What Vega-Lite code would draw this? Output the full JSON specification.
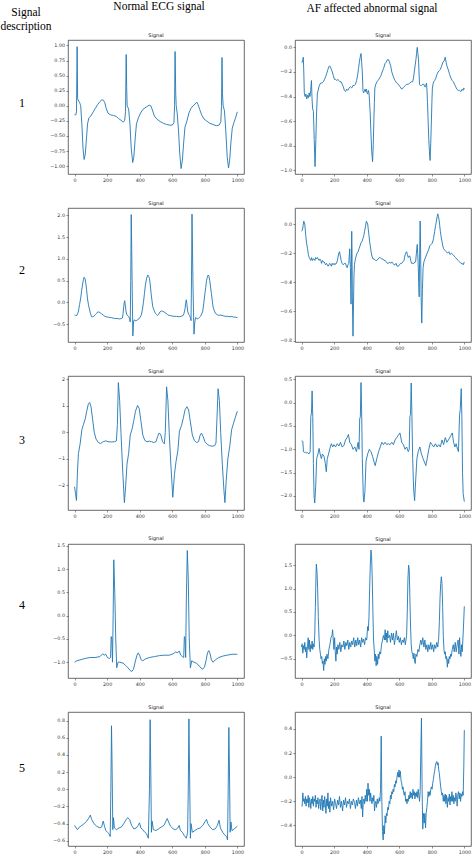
{
"$schema": "https://vega.github.io/schema/vega-lite/v6.json",
"padding": 0,
"background": "white",
"config": {
 "view": {"stroke": "#444", "strokeWidth": 0.8},
 "axis": {"domain": false, "grid": false, "tickSize": 2, "tickColor": "#444", "tickWidth": 0.6, "labelFont": "DejaVu Sans", "labelFontSize": 4.8, "labelColor": "#333", "labelPadding": 1.5, "labelFlush": false},
 "axisX": {"format": "d"},
 "title": {"font": "DejaVu Sans", "fontSize": 5, "fontWeight": "normal", "color": "#222", "offset": 2},
 "text": {"font": "Liberation Serif", "fontSize": 11.5, "color": "#000"},
 "line": {"color": "#1f77b4", "strokeWidth": 0.9}
},
"datasets": {
"p1L": [{"x":0,"y":-0.15},{"x":8,"y":-0.15},{"x":12,"y":-0.1},{"x":16,"y":0.98},{"x":19,"y":0.12},{"x":25,"y":0.08},{"x":32,"y":0.05},{"x":38,"y":0.0},{"x":45,"y":-0.3},{"x":52,"y":-0.7},{"x":59,"y":-0.89},{"x":66,"y":-0.8},{"x":73,"y":-0.55},{"x":80,"y":-0.3},{"x":88,"y":-0.2},{"x":100,"y":-0.17},{"x":115,"y":-0.1},{"x":128,"y":-0.04},{"x":142,"y":0.02},{"x":156,"y":0.07},{"x":168,"y":0.1},{"x":178,"y":0.09},{"x":186,"y":0.05},{"x":195,"y":-0.05},{"x":205,"y":-0.12},{"x":220,"y":-0.15},{"x":240,"y":-0.16},{"x":258,"y":-0.18},{"x":270,"y":-0.21},{"x":285,"y":-0.24},{"x":300,"y":-0.27},{"x":308,"y":-0.24},{"x":313,"y":-0.1},{"x":317,"y":0.85},{"x":320,"y":0.3},{"x":323,"y":0.0},{"x":332,"y":-0.05},{"x":340,"y":-0.3},{"x":348,"y":-0.7},{"x":357,"y":-0.94},{"x":364,"y":-0.85},{"x":372,"y":-0.55},{"x":380,"y":-0.3},{"x":392,"y":-0.2},{"x":405,"y":-0.12},{"x":420,"y":-0.06},{"x":440,"y":-0.02},{"x":458,"y":0.01},{"x":468,"y":0.0},{"x":478,"y":-0.07},{"x":490,"y":-0.17},{"x":505,"y":-0.22},{"x":525,"y":-0.26},{"x":545,"y":-0.29},{"x":565,"y":-0.31},{"x":585,"y":-0.32},{"x":600,"y":-0.32},{"x":610,"y":-0.28},{"x":614,"y":0.0},{"x":617,"y":0.9},{"x":621,"y":0.2},{"x":624,"y":0.0},{"x":630,"y":-0.12},{"x":638,"y":-0.4},{"x":646,"y":-0.8},{"x":654,"y":-1.04},{"x":662,"y":-0.9},{"x":670,"y":-0.6},{"x":678,"y":-0.35},{"x":690,"y":-0.25},{"x":702,"y":-0.12},{"x":715,"y":-0.04},{"x":728,"y":0.0},{"x":740,"y":0.03},{"x":750,"y":0.06},{"x":758,"y":0.02},{"x":768,"y":-0.06},{"x":780,"y":-0.15},{"x":795,"y":-0.22},{"x":810,"y":-0.25},{"x":830,"y":-0.29},{"x":850,"y":-0.31},{"x":870,"y":-0.33},{"x":888,"y":-0.32},{"x":898,"y":-0.26},{"x":902,"y":0.0},{"x":905,"y":0.8},{"x":908,"y":0.2},{"x":912,"y":0.0},{"x":920,"y":-0.08},{"x":928,"y":-0.4},{"x":937,"y":-0.85},{"x":945,"y":-1.03},{"x":952,"y":-0.9},{"x":960,"y":-0.6},{"x":968,"y":-0.37},{"x":978,"y":-0.28},{"x":988,"y":-0.2},{"x":999,"y":-0.1}],
"p1R": [{"x":0,"y":-0.12},{"x":5,"y":-0.12},{"x":8,"y":-0.1},{"x":11,"y":-0.08},{"x":14,"y":-0.2},{"x":17,"y":-0.37},{"x":22,"y":-0.4},{"x":27,"y":-0.38},{"x":32,"y":-0.42},{"x":37,"y":-0.39},{"x":42,"y":-0.41},{"x":47,"y":-0.37},{"x":52,"y":-0.4},{"x":56,"y":-0.35},{"x":61,"y":-0.27},{"x":64,"y":-0.4},{"x":68,"y":-0.5},{"x":73,"y":-0.52},{"x":78,"y":-0.75},{"x":83,"y":-0.97},{"x":88,"y":-0.75},{"x":92,"y":-0.55},{"x":97,"y":-0.38},{"x":102,"y":-0.35},{"x":107,"y":-0.32},{"x":113,"y":-0.3},{"x":118,"y":-0.29},{"x":126,"y":-0.29},{"x":134,"y":-0.28},{"x":141,"y":-0.26},{"x":148,"y":-0.24},{"x":155,"y":-0.21},{"x":162,"y":-0.18},{"x":167,"y":-0.16},{"x":172,"y":-0.15},{"x":178,"y":-0.16},{"x":183,"y":-0.18},{"x":189,"y":-0.2},{"x":195,"y":-0.23},{"x":202,"y":-0.26},{"x":209,"y":-0.26},{"x":216,"y":-0.27},{"x":223,"y":-0.26},{"x":229,"y":-0.27},{"x":236,"y":-0.28},{"x":243,"y":-0.28},{"x":250,"y":-0.3},{"x":256,"y":-0.32},{"x":263,"y":-0.35},{"x":270,"y":-0.36},{"x":277,"y":-0.34},{"x":284,"y":-0.35},{"x":292,"y":-0.33},{"x":300,"y":-0.32},{"x":308,"y":-0.33},{"x":316,"y":-0.31},{"x":324,"y":-0.31},{"x":331,"y":-0.3},{"x":338,"y":-0.27},{"x":345,"y":-0.22},{"x":350,"y":-0.17},{"x":355,"y":-0.12},{"x":360,"y":-0.08},{"x":365,"y":-0.05},{"x":369,"y":-0.12},{"x":373,"y":-0.2},{"x":377,"y":-0.35},{"x":381,"y":-0.37},{"x":385,"y":-0.36},{"x":390,"y":-0.34},{"x":394,"y":-0.36},{"x":398,"y":-0.34},{"x":402,"y":-0.37},{"x":406,"y":-0.38},{"x":410,"y":-0.35},{"x":414,"y":-0.37},{"x":418,"y":-0.45},{"x":422,"y":-0.55},{"x":426,"y":-0.7},{"x":431,"y":-0.85},{"x":436,"y":-0.93},{"x":440,"y":-0.8},{"x":444,"y":-0.6},{"x":447,"y":-0.45},{"x":450,"y":-0.33},{"x":456,"y":-0.3},{"x":462,"y":-0.28},{"x":470,"y":-0.27},{"x":479,"y":-0.25},{"x":487,"y":-0.23},{"x":495,"y":-0.2},{"x":504,"y":-0.17},{"x":513,"y":-0.13},{"x":520,"y":-0.12},{"x":527,"y":-0.1},{"x":534,"y":-0.1},{"x":540,"y":-0.12},{"x":547,"y":-0.15},{"x":554,"y":-0.2},{"x":564,"y":-0.24},{"x":574,"y":-0.27},{"x":584,"y":-0.29},{"x":594,"y":-0.3},{"x":604,"y":-0.32},{"x":615,"y":-0.34},{"x":622,"y":-0.33},{"x":629,"y":-0.32},{"x":637,"y":-0.31},{"x":645,"y":-0.3},{"x":655,"y":-0.3},{"x":665,"y":-0.29},{"x":674,"y":-0.28},{"x":682,"y":-0.28},{"x":687,"y":-0.25},{"x":692,"y":-0.2},{"x":697,"y":-0.15},{"x":702,"y":-0.1},{"x":706,"y":-0.05},{"x":710,"y":0.0},{"x":714,"y":-0.05},{"x":718,"y":-0.1},{"x":721,"y":-0.2},{"x":724,"y":-0.3},{"x":730,"y":-0.31},{"x":736,"y":-0.31},{"x":743,"y":-0.3},{"x":751,"y":-0.3},{"x":756,"y":-0.32},{"x":761,"y":-0.32},{"x":767,"y":-0.29},{"x":770,"y":-0.35},{"x":773,"y":-0.45},{"x":777,"y":-0.6},{"x":781,"y":-0.75},{"x":785,"y":-0.85},{"x":789,"y":-0.92},{"x":793,"y":-0.78},{"x":797,"y":-0.6},{"x":800,"y":-0.45},{"x":803,"y":-0.33},{"x":807,"y":-0.3},{"x":811,"y":-0.28},{"x":817,"y":-0.27},{"x":824,"y":-0.25},{"x":831,"y":-0.22},{"x":838,"y":-0.2},{"x":845,"y":-0.19},{"x":852,"y":-0.18},{"x":860,"y":-0.15},{"x":868,"y":-0.12},{"x":875,"y":-0.11},{"x":882,"y":-0.08},{"x":887,"y":-0.12},{"x":892,"y":-0.15},{"x":900,"y":-0.18},{"x":909,"y":-0.22},{"x":917,"y":-0.25},{"x":925,"y":-0.27},{"x":932,"y":-0.28},{"x":939,"y":-0.3},{"x":946,"y":-0.32},{"x":953,"y":-0.34},{"x":961,"y":-0.35},{"x":970,"y":-0.35},{"x":978,"y":-0.36},{"x":986,"y":-0.34},{"x":991,"y":-0.35},{"x":996,"y":-0.33},{"x":999,"y":-0.34}],
"p2L": [{"x":0,"y":-0.29},{"x":7,"y":-0.3},{"x":14,"y":-0.3},{"x":19,"y":-0.26},{"x":24,"y":-0.2},{"x":31,"y":-0.05},{"x":38,"y":0.1},{"x":44,"y":0.28},{"x":49,"y":0.4},{"x":54,"y":0.52},{"x":59,"y":0.58},{"x":64,"y":0.55},{"x":69,"y":0.45},{"x":74,"y":0.3},{"x":79,"y":0.1},{"x":85,"y":-0.04},{"x":91,"y":-0.15},{"x":98,"y":-0.26},{"x":105,"y":-0.33},{"x":112,"y":-0.33},{"x":119,"y":-0.32},{"x":128,"y":-0.28},{"x":136,"y":-0.25},{"x":143,"y":-0.22},{"x":150,"y":-0.22},{"x":158,"y":-0.24},{"x":166,"y":-0.26},{"x":176,"y":-0.29},{"x":186,"y":-0.32},{"x":196,"y":-0.33},{"x":207,"y":-0.34},{"x":217,"y":-0.35},{"x":227,"y":-0.35},{"x":237,"y":-0.36},{"x":247,"y":-0.37},{"x":262,"y":-0.37},{"x":277,"y":-0.38},{"x":286,"y":-0.37},{"x":294,"y":-0.36},{"x":298,"y":-0.25},{"x":302,"y":-0.1},{"x":305,"y":0.0},{"x":308,"y":0.04},{"x":312,"y":-0.08},{"x":316,"y":-0.2},{"x":320,"y":-0.27},{"x":324,"y":-0.3},{"x":330,"y":-0.32},{"x":334,"y":-0.33},{"x":338,"y":-0.38},{"x":342,"y":-0.45},{"x":345,"y":0.5},{"x":348,"y":2.02},{"x":351,"y":1.2},{"x":354,"y":0.3},{"x":358,"y":-0.77},{"x":362,"y":-0.45},{"x":366,"y":-0.4},{"x":372,"y":-0.42},{"x":378,"y":-0.42},{"x":386,"y":-0.4},{"x":395,"y":-0.38},{"x":402,"y":-0.34},{"x":409,"y":-0.3},{"x":416,"y":-0.18},{"x":423,"y":0.0},{"x":429,"y":0.2},{"x":435,"y":0.4},{"x":442,"y":0.55},{"x":449,"y":0.63},{"x":455,"y":0.6},{"x":460,"y":0.55},{"x":465,"y":0.4},{"x":470,"y":0.2},{"x":475,"y":0.05},{"x":480,"y":-0.1},{"x":488,"y":-0.18},{"x":496,"y":-0.25},{"x":503,"y":-0.28},{"x":510,"y":-0.3},{"x":517,"y":-0.27},{"x":524,"y":-0.22},{"x":532,"y":-0.2},{"x":540,"y":-0.2},{"x":550,"y":-0.22},{"x":561,"y":-0.25},{"x":571,"y":-0.28},{"x":581,"y":-0.3},{"x":596,"y":-0.31},{"x":611,"y":-0.32},{"x":626,"y":-0.32},{"x":642,"y":-0.33},{"x":654,"y":-0.32},{"x":666,"y":-0.3},{"x":672,"y":-0.25},{"x":678,"y":-0.15},{"x":682,"y":-0.02},{"x":686,"y":0.06},{"x":690,"y":-0.05},{"x":694,"y":-0.2},{"x":700,"y":-0.27},{"x":706,"y":-0.3},{"x":711,"y":-0.35},{"x":715,"y":-0.42},{"x":718,"y":0.6},{"x":721,"y":2.03},{"x":724,"y":1.2},{"x":727,"y":0.4},{"x":733,"y":-0.73},{"x":738,"y":-0.45},{"x":743,"y":-0.35},{"x":750,"y":-0.37},{"x":757,"y":-0.38},{"x":765,"y":-0.35},{"x":773,"y":-0.32},{"x":780,"y":-0.27},{"x":787,"y":-0.2},{"x":793,"y":-0.02},{"x":800,"y":0.2},{"x":805,"y":0.35},{"x":810,"y":0.5},{"x":815,"y":0.58},{"x":820,"y":0.63},{"x":825,"y":0.6},{"x":830,"y":0.5},{"x":835,"y":0.35},{"x":840,"y":0.2},{"x":845,"y":0.05},{"x":850,"y":-0.1},{"x":857,"y":-0.18},{"x":864,"y":-0.25},{"x":875,"y":-0.28},{"x":885,"y":-0.3},{"x":895,"y":-0.29},{"x":905,"y":-0.3},{"x":915,"y":-0.31},{"x":925,"y":-0.32},{"x":940,"y":-0.32},{"x":955,"y":-0.33},{"x":966,"y":-0.32},{"x":976,"y":-0.34},{"x":988,"y":-0.34},{"x":999,"y":-0.35}],
"p2R": [{"x":0,"y":-0.05},{"x":6,"y":-0.04},{"x":10,"y":-0.01},{"x":14,"y":0.02},{"x":17,"y":0.01},{"x":20,"y":0.0},{"x":23,"y":-0.04},{"x":26,"y":-0.08},{"x":31,"y":-0.13},{"x":37,"y":-0.17},{"x":42,"y":-0.21},{"x":47,"y":-0.23},{"x":52,"y":-0.24},{"x":57,"y":-0.25},{"x":62,"y":-0.23},{"x":67,"y":-0.25},{"x":72,"y":-0.24},{"x":77,"y":-0.24},{"x":82,"y":-0.25},{"x":87,"y":-0.23},{"x":92,"y":-0.24},{"x":97,"y":-0.23},{"x":102,"y":-0.24},{"x":108,"y":-0.25},{"x":113,"y":-0.24},{"x":118,"y":-0.25},{"x":123,"y":-0.27},{"x":128,"y":-0.25},{"x":133,"y":-0.26},{"x":138,"y":-0.26},{"x":143,"y":-0.27},{"x":148,"y":-0.28},{"x":153,"y":-0.27},{"x":158,"y":-0.28},{"x":163,"y":-0.29},{"x":168,"y":-0.28},{"x":173,"y":-0.27},{"x":178,"y":-0.28},{"x":183,"y":-0.29},{"x":188,"y":-0.27},{"x":193,"y":-0.28},{"x":199,"y":-0.27},{"x":205,"y":-0.28},{"x":210,"y":-0.27},{"x":215,"y":-0.27},{"x":220,"y":-0.25},{"x":225,"y":-0.22},{"x":229,"y":-0.2},{"x":233,"y":-0.19},{"x":238,"y":-0.22},{"x":243,"y":-0.25},{"x":249,"y":-0.27},{"x":256,"y":-0.28},{"x":263,"y":-0.27},{"x":270,"y":-0.27},{"x":275,"y":-0.29},{"x":280,"y":-0.3},{"x":285,"y":-0.28},{"x":290,"y":-0.27},{"x":294,"y":-0.2},{"x":296,"y":-0.17},{"x":298,"y":-0.25},{"x":300,"y":-0.3},{"x":302,"y":-0.45},{"x":304,"y":-0.55},{"x":306,"y":-0.3},{"x":308,"y":-0.05},{"x":310,"y":-0.2},{"x":312,"y":-0.5},{"x":314,"y":-0.65},{"x":316,"y":-0.77},{"x":319,"y":-0.55},{"x":322,"y":-0.35},{"x":325,"y":-0.28},{"x":329,"y":-0.25},{"x":335,"y":-0.22},{"x":341,"y":-0.2},{"x":347,"y":-0.19},{"x":353,"y":-0.17},{"x":359,"y":-0.15},{"x":365,"y":-0.13},{"x":371,"y":-0.12},{"x":377,"y":-0.1},{"x":382,"y":-0.08},{"x":387,"y":-0.05},{"x":392,"y":-0.02},{"x":398,"y":0.02},{"x":402,"y":0.01},{"x":406,"y":0.0},{"x":410,"y":-0.04},{"x":414,"y":-0.08},{"x":418,"y":-0.12},{"x":422,"y":-0.15},{"x":427,"y":-0.19},{"x":432,"y":-0.22},{"x":439,"y":-0.24},{"x":446,"y":-0.24},{"x":454,"y":-0.25},{"x":462,"y":-0.25},{"x":470,"y":-0.24},{"x":478,"y":-0.23},{"x":483,"y":-0.23},{"x":491,"y":-0.24},{"x":499,"y":-0.24},{"x":506,"y":-0.25},{"x":513,"y":-0.25},{"x":520,"y":-0.26},{"x":527,"y":-0.27},{"x":533,"y":-0.27},{"x":540,"y":-0.26},{"x":547,"y":-0.27},{"x":554,"y":-0.26},{"x":561,"y":-0.27},{"x":568,"y":-0.28},{"x":574,"y":-0.28},{"x":580,"y":-0.27},{"x":587,"y":-0.29},{"x":594,"y":-0.29},{"x":601,"y":-0.28},{"x":608,"y":-0.27},{"x":615,"y":-0.27},{"x":622,"y":-0.26},{"x":629,"y":-0.25},{"x":634,"y":-0.22},{"x":639,"y":-0.2},{"x":645,"y":-0.19},{"x":650,"y":-0.21},{"x":655,"y":-0.23},{"x":660,"y":-0.22},{"x":665,"y":-0.22},{"x":670,"y":-0.25},{"x":675,"y":-0.27},{"x":682,"y":-0.27},{"x":690,"y":-0.27},{"x":696,"y":-0.26},{"x":700,"y":-0.26},{"x":705,"y":-0.2},{"x":710,"y":-0.14},{"x":713,"y":-0.2},{"x":716,"y":-0.28},{"x":719,"y":-0.4},{"x":722,"y":-0.5},{"x":725,"y":-0.2},{"x":728,"y":0.02},{"x":731,"y":-0.2},{"x":734,"y":-0.5},{"x":736,"y":-0.6},{"x":738,"y":-0.68},{"x":742,"y":-0.45},{"x":746,"y":-0.3},{"x":751,"y":-0.26},{"x":757,"y":-0.24},{"x":764,"y":-0.22},{"x":771,"y":-0.2},{"x":779,"y":-0.18},{"x":787,"y":-0.15},{"x":795,"y":-0.14},{"x":803,"y":-0.13},{"x":810,"y":-0.1},{"x":817,"y":-0.05},{"x":823,"y":-0.01},{"x":828,"y":0.02},{"x":832,"y":0.05},{"x":836,"y":0.07},{"x":840,"y":0.05},{"x":844,"y":0.03},{"x":848,"y":-0.01},{"x":852,"y":-0.05},{"x":857,"y":-0.09},{"x":862,"y":-0.12},{"x":867,"y":-0.15},{"x":872,"y":-0.17},{"x":880,"y":-0.18},{"x":888,"y":-0.19},{"x":896,"y":-0.2},{"x":904,"y":-0.19},{"x":912,"y":-0.21},{"x":920,"y":-0.2},{"x":929,"y":-0.21},{"x":937,"y":-0.22},{"x":945,"y":-0.23},{"x":953,"y":-0.24},{"x":961,"y":-0.25},{"x":970,"y":-0.26},{"x":978,"y":-0.27},{"x":986,"y":-0.27},{"x":992,"y":-0.28},{"x":999,"y":-0.26}],
"p3L": [{"x":0,"y":-2.05},{"x":6,"y":-2.3},{"x":12,"y":-2.57},{"x":18,"y":-1.5},{"x":24,"y":-0.8},{"x":34,"y":-0.45},{"x":45,"y":0.1},{"x":55,"y":0.3},{"x":65,"y":0.5},{"x":75,"y":0.8},{"x":85,"y":1.08},{"x":93,"y":1.13},{"x":101,"y":0.98},{"x":111,"y":0.5},{"x":121,"y":0.0},{"x":132,"y":-0.25},{"x":146,"y":-0.38},{"x":160,"y":-0.42},{"x":176,"y":-0.35},{"x":192,"y":-0.32},{"x":206,"y":-0.35},{"x":227,"y":-0.36},{"x":247,"y":-0.35},{"x":257,"y":-0.32},{"x":263,"y":0.3},{"x":269,"y":1.88},{"x":277,"y":1.2},{"x":285,"y":0.0},{"x":296,"y":-1.5},{"x":306,"y":-2.65},{"x":314,"y":-2.0},{"x":322,"y":-1.2},{"x":332,"y":-0.8},{"x":342,"y":-0.1},{"x":354,"y":0.15},{"x":364,"y":0.45},{"x":374,"y":0.8},{"x":387,"y":1.02},{"x":397,"y":0.9},{"x":407,"y":0.45},{"x":419,"y":-0.1},{"x":431,"y":-0.3},{"x":445,"y":-0.35},{"x":460,"y":-0.33},{"x":472,"y":-0.35},{"x":486,"y":-0.38},{"x":500,"y":-0.35},{"x":510,"y":-0.15},{"x":520,"y":-0.02},{"x":530,"y":-0.1},{"x":540,"y":-0.35},{"x":551,"y":-0.43},{"x":557,"y":0.0},{"x":565,"y":1.72},{"x":573,"y":1.2},{"x":581,"y":0.0},{"x":591,"y":-1.2},{"x":603,"y":-2.45},{"x":613,"y":-1.6},{"x":623,"y":-1.1},{"x":634,"y":-0.7},{"x":644,"y":0.05},{"x":656,"y":0.25},{"x":668,"y":0.55},{"x":678,"y":0.85},{"x":690,"y":0.97},{"x":700,"y":0.85},{"x":711,"y":0.4},{"x":723,"y":-0.1},{"x":735,"y":-0.3},{"x":749,"y":-0.38},{"x":761,"y":-0.35},{"x":771,"y":-0.1},{"x":779,"y":-0.03},{"x":789,"y":-0.15},{"x":800,"y":-0.35},{"x":814,"y":-0.45},{"x":828,"y":-0.5},{"x":844,"y":-0.52},{"x":860,"y":-0.5},{"x":868,"y":-0.4},{"x":874,"y":0.5},{"x":881,"y":1.65},{"x":889,"y":1.2},{"x":897,"y":0.0},{"x":907,"y":-1.2},{"x":917,"y":-2.2},{"x":923,"y":-2.65},{"x":931,"y":-1.8},{"x":941,"y":-1.0},{"x":953,"y":-0.5},{"x":964,"y":0.1},{"x":976,"y":0.35},{"x":986,"y":0.55},{"x":999,"y":0.8}],
"p3R": [{"x":0,"y":-0.82},{"x":8,"y":-0.83},{"x":12,"y":-1.05},{"x":20,"y":-1.07},{"x":26,"y":-1.06},{"x":32,"y":-1.08},{"x":38,"y":-1.07},{"x":45,"y":-1.1},{"x":53,"y":-1.05},{"x":57,"y":-0.3},{"x":61,"y":-0.22},{"x":65,"y":0.25},{"x":69,"y":-0.3},{"x":73,"y":-1.3},{"x":77,"y":-2.0},{"x":81,"y":-2.15},{"x":87,"y":-1.8},{"x":93,"y":-1.2},{"x":101,"y":-1.1},{"x":108,"y":-0.98},{"x":114,"y":-1.1},{"x":122,"y":-1.2},{"x":128,"y":-1.1},{"x":138,"y":-1.15},{"x":146,"y":-1.3},{"x":152,"y":-1.48},{"x":158,"y":-1.2},{"x":166,"y":-1.1},{"x":174,"y":-0.98},{"x":183,"y":-0.88},{"x":191,"y":-0.95},{"x":199,"y":-0.9},{"x":209,"y":-0.95},{"x":219,"y":-0.88},{"x":229,"y":-0.93},{"x":239,"y":-0.85},{"x":249,"y":-0.95},{"x":260,"y":-0.92},{"x":270,"y":-0.8},{"x":280,"y":-0.75},{"x":288,"y":-0.68},{"x":296,"y":-0.85},{"x":306,"y":-0.9},{"x":316,"y":-1.0},{"x":327,"y":-0.95},{"x":337,"y":-1.05},{"x":347,"y":-0.85},{"x":353,"y":-1.0},{"x":357,"y":-0.35},{"x":361,"y":-0.3},{"x":365,"y":0.43},{"x":369,"y":-0.2},{"x":373,"y":-1.2},{"x":379,"y":-2.0},{"x":383,"y":-2.13},{"x":389,"y":-1.9},{"x":396,"y":-1.25},{"x":406,"y":-1.1},{"x":416,"y":-1.0},{"x":426,"y":-1.05},{"x":436,"y":-1.15},{"x":446,"y":-1.28},{"x":452,"y":-1.35},{"x":462,"y":-1.2},{"x":473,"y":-1.05},{"x":483,"y":-0.95},{"x":493,"y":-0.85},{"x":503,"y":-0.9},{"x":513,"y":-0.85},{"x":523,"y":-0.9},{"x":533,"y":-0.88},{"x":544,"y":-0.9},{"x":554,"y":-0.85},{"x":564,"y":-0.9},{"x":574,"y":-0.8},{"x":584,"y":-0.75},{"x":594,"y":-0.7},{"x":604,"y":-0.65},{"x":615,"y":-0.85},{"x":625,"y":-0.9},{"x":635,"y":-1.0},{"x":645,"y":-0.95},{"x":655,"y":-1.05},{"x":661,"y":-1.0},{"x":665,"y":-0.3},{"x":669,"y":-0.25},{"x":673,"y":0.42},{"x":677,"y":-0.2},{"x":682,"y":-1.2},{"x":688,"y":-1.85},{"x":694,"y":-2.1},{"x":700,"y":-1.7},{"x":708,"y":-1.2},{"x":716,"y":-1.05},{"x":726,"y":-0.95},{"x":736,"y":-1.1},{"x":746,"y":-1.2},{"x":757,"y":-1.3},{"x":763,"y":-1.35},{"x":771,"y":-1.2},{"x":781,"y":-1.0},{"x":791,"y":-0.85},{"x":801,"y":-0.9},{"x":811,"y":-0.95},{"x":822,"y":-0.88},{"x":832,"y":-0.95},{"x":842,"y":-0.9},{"x":852,"y":-0.95},{"x":862,"y":-0.8},{"x":872,"y":-0.9},{"x":882,"y":-0.75},{"x":892,"y":-0.85},{"x":905,"y":-0.78},{"x":917,"y":-0.7},{"x":925,"y":-0.65},{"x":933,"y":-0.85},{"x":941,"y":-0.95},{"x":949,"y":-0.88},{"x":957,"y":-1.0},{"x":963,"y":-1.05},{"x":970,"y":-0.25},{"x":974,"y":-0.15},{"x":980,"y":0.3},{"x":984,"y":-0.3},{"x":988,"y":-1.5},{"x":992,"y":-1.95},{"x":999,"y":-2.12}],
"p4L": [{"x":0,"y":-1.0},{"x":14,"y":-0.97},{"x":34,"y":-0.95},{"x":65,"y":-0.92},{"x":95,"y":-0.9},{"x":126,"y":-0.9},{"x":156,"y":-0.88},{"x":172,"y":-0.82},{"x":182,"y":-0.85},{"x":192,"y":-0.83},{"x":202,"y":-0.9},{"x":213,"y":-0.92},{"x":221,"y":-0.9},{"x":225,"y":-0.45},{"x":229,"y":-0.5},{"x":233,"y":-1.0},{"x":237,"y":0.0},{"x":241,"y":1.2},{"x":247,"y":0.5},{"x":253,"y":-0.5},{"x":259,"y":-1.12},{"x":267,"y":-1.0},{"x":277,"y":-1.0},{"x":298,"y":-1.02},{"x":314,"y":-1.07},{"x":328,"y":-1.12},{"x":342,"y":-1.18},{"x":352,"y":-1.2},{"x":362,"y":-1.15},{"x":372,"y":-1.0},{"x":383,"y":-0.85},{"x":391,"y":-0.8},{"x":399,"y":-0.85},{"x":409,"y":-0.95},{"x":419,"y":-0.97},{"x":435,"y":-0.93},{"x":460,"y":-0.9},{"x":490,"y":-0.88},{"x":520,"y":-0.86},{"x":550,"y":-0.85},{"x":581,"y":-0.85},{"x":605,"y":-0.82},{"x":621,"y":-0.78},{"x":632,"y":-0.8},{"x":642,"y":-0.76},{"x":652,"y":-0.85},{"x":662,"y":-0.88},{"x":670,"y":-0.9},{"x":674,"y":-0.45},{"x":678,"y":-0.5},{"x":682,"y":-0.9},{"x":686,"y":0.3},{"x":692,"y":1.4},{"x":698,"y":0.8},{"x":704,"y":-0.5},{"x":711,"y":-1.12},{"x":719,"y":-0.97},{"x":733,"y":-1.0},{"x":747,"y":-1.02},{"x":763,"y":-1.07},{"x":777,"y":-1.13},{"x":787,"y":-1.15},{"x":798,"y":-1.1},{"x":808,"y":-0.95},{"x":816,"y":-0.8},{"x":824,"y":-0.75},{"x":832,"y":-0.82},{"x":840,"y":-0.95},{"x":850,"y":-1.0},{"x":864,"y":-0.95},{"x":885,"y":-0.9},{"x":909,"y":-0.87},{"x":935,"y":-0.85},{"x":966,"y":-0.83},{"x":999,"y":-0.83}],
"p4R": [{"x":0,"y":-0.25},{"x":4,"y":-0.18},{"x":8,"y":-0.38},{"x":12,"y":-0.22},{"x":16,"y":-0.3},{"x":20,"y":-0.15},{"x":24,"y":-0.35},{"x":28,"y":-0.25},{"x":32,"y":-0.48},{"x":37,"y":-0.2},{"x":41,"y":-0.05},{"x":45,"y":-0.3},{"x":49,"y":-0.1},{"x":53,"y":-0.35},{"x":57,"y":-0.2},{"x":61,"y":-0.28},{"x":65,"y":-0.12},{"x":69,"y":-0.3},{"x":73,"y":-0.18},{"x":77,"y":-0.25},{"x":81,"y":0.0},{"x":85,"y":0.6},{"x":89,"y":1.3},{"x":91,"y":1.52},{"x":95,"y":1.35},{"x":99,"y":1.0},{"x":103,"y":0.4},{"x":108,"y":-0.1},{"x":112,"y":-0.3},{"x":116,"y":-0.4},{"x":120,"y":-0.5},{"x":124,"y":-0.45},{"x":128,"y":-0.6},{"x":132,"y":-0.55},{"x":136,"y":-0.75},{"x":140,"y":-0.5},{"x":144,"y":-0.62},{"x":148,"y":-0.45},{"x":152,"y":-0.55},{"x":156,"y":-0.4},{"x":162,"y":-0.5},{"x":168,"y":-0.3},{"x":174,"y":-0.2},{"x":181,"y":-0.05},{"x":187,"y":0.0},{"x":191,"y":0.12},{"x":195,"y":-0.1},{"x":199,"y":-0.3},{"x":203,"y":-0.05},{"x":207,"y":-0.35},{"x":211,"y":-0.55},{"x":215,"y":-0.25},{"x":219,"y":-0.4},{"x":223,"y":-0.2},{"x":229,"y":-0.3},{"x":235,"y":-0.15},{"x":241,"y":-0.35},{"x":247,"y":-0.2},{"x":254,"y":-0.25},{"x":260,"y":-0.12},{"x":266,"y":-0.3},{"x":272,"y":-0.15},{"x":278,"y":-0.22},{"x":284,"y":-0.1},{"x":290,"y":-0.3},{"x":296,"y":-0.15},{"x":302,"y":-0.25},{"x":308,"y":-0.12},{"x":314,"y":-0.2},{"x":320,"y":-0.05},{"x":327,"y":-0.25},{"x":333,"y":-0.1},{"x":339,"y":-0.22},{"x":345,"y":-0.05},{"x":351,"y":-0.2},{"x":357,"y":-0.1},{"x":363,"y":-0.25},{"x":369,"y":-0.05},{"x":375,"y":-0.15},{"x":381,"y":-0.08},{"x":387,"y":-0.2},{"x":393,"y":-0.05},{"x":400,"y":-0.1},{"x":406,"y":0.19},{"x":410,"y":0.1},{"x":414,"y":0.4},{"x":418,"y":1.0},{"x":422,"y":1.5},{"x":426,"y":1.82},{"x":430,"y":1.7},{"x":434,"y":1.2},{"x":438,"y":0.5},{"x":442,"y":-0.1},{"x":446,"y":-0.3},{"x":450,"y":-0.55},{"x":454,"y":-0.4},{"x":458,"y":-0.65},{"x":462,"y":-0.45},{"x":467,"y":-0.62},{"x":471,"y":-0.4},{"x":475,"y":-0.5},{"x":479,"y":-0.35},{"x":485,"y":-0.4},{"x":491,"y":-0.2},{"x":497,"y":-0.1},{"x":503,"y":0.0},{"x":509,"y":-0.1},{"x":513,"y":0.12},{"x":517,"y":-0.1},{"x":521,"y":0.05},{"x":525,"y":-0.15},{"x":529,"y":0.1},{"x":533,"y":-0.05},{"x":540,"y":0.0},{"x":546,"y":-0.15},{"x":552,"y":0.05},{"x":558,"y":-0.1},{"x":564,"y":0.05},{"x":570,"y":-0.2},{"x":576,"y":-0.05},{"x":582,"y":0.1},{"x":588,"y":-0.1},{"x":594,"y":-0.02},{"x":600,"y":-0.15},{"x":606,"y":-0.05},{"x":613,"y":-0.2},{"x":619,"y":-0.1},{"x":625,"y":-0.15},{"x":631,"y":-0.05},{"x":637,"y":-0.2},{"x":641,"y":-0.1},{"x":645,"y":0.0},{"x":649,"y":0.5},{"x":653,"y":1.2},{"x":657,"y":1.5},{"x":661,"y":1.4},{"x":665,"y":0.8},{"x":669,"y":0.2},{"x":673,"y":-0.2},{"x":677,"y":-0.35},{"x":682,"y":-0.4},{"x":686,"y":-0.5},{"x":690,"y":-0.38},{"x":694,"y":-0.55},{"x":698,"y":-0.6},{"x":702,"y":-0.4},{"x":708,"y":-0.45},{"x":714,"y":-0.3},{"x":720,"y":-0.35},{"x":726,"y":-0.2},{"x":732,"y":-0.1},{"x":738,"y":-0.2},{"x":744,"y":-0.05},{"x":751,"y":-0.25},{"x":757,"y":-0.1},{"x":763,"y":-0.3},{"x":769,"y":-0.2},{"x":775,"y":-0.35},{"x":781,"y":-0.2},{"x":787,"y":-0.3},{"x":793,"y":-0.15},{"x":799,"y":-0.3},{"x":805,"y":-0.2},{"x":811,"y":-0.35},{"x":817,"y":-0.2},{"x":824,"y":-0.28},{"x":830,"y":-0.15},{"x":836,"y":-0.25},{"x":842,"y":-0.05},{"x":846,"y":0.3},{"x":850,"y":0.8},{"x":854,"y":1.1},{"x":858,"y":1.25},{"x":862,"y":1.1},{"x":866,"y":0.6},{"x":870,"y":0.0},{"x":874,"y":-0.3},{"x":878,"y":-0.4},{"x":882,"y":-0.35},{"x":886,"y":-0.5},{"x":890,"y":-0.45},{"x":895,"y":-0.68},{"x":899,"y":-0.5},{"x":903,"y":-0.6},{"x":907,"y":-0.45},{"x":911,"y":-0.5},{"x":915,"y":-0.4},{"x":919,"y":-0.45},{"x":925,"y":-0.3},{"x":931,"y":-0.2},{"x":937,"y":-0.35},{"x":943,"y":-0.15},{"x":949,"y":-0.35},{"x":955,"y":-0.2},{"x":961,"y":-0.1},{"x":966,"y":-0.4},{"x":970,"y":-0.05},{"x":974,"y":-0.3},{"x":978,"y":-0.45},{"x":982,"y":-0.2},{"x":986,"y":-0.35},{"x":990,"y":-0.1},{"x":994,"y":0.2},{"x":999,"y":0.62}],
"p5L": [{"x":0,"y":-0.42},{"x":10,"y":-0.45},{"x":18,"y":-0.47},{"x":30,"y":-0.44},{"x":45,"y":-0.42},{"x":59,"y":-0.4},{"x":75,"y":-0.37},{"x":89,"y":-0.33},{"x":97,"y":-0.3},{"x":105,"y":-0.35},{"x":119,"y":-0.4},{"x":136,"y":-0.43},{"x":156,"y":-0.45},{"x":166,"y":-0.44},{"x":176,"y":-0.37},{"x":184,"y":-0.43},{"x":192,"y":-0.48},{"x":202,"y":-0.5},{"x":213,"y":-0.52},{"x":219,"y":-0.55},{"x":223,"y":0.0},{"x":227,"y":0.74},{"x":231,"y":0.2},{"x":235,"y":-0.47},{"x":239,"y":-0.33},{"x":245,"y":-0.45},{"x":257,"y":-0.47},{"x":273,"y":-0.45},{"x":287,"y":-0.44},{"x":302,"y":-0.4},{"x":314,"y":-0.36},{"x":326,"y":-0.33},{"x":338,"y":-0.35},{"x":350,"y":-0.42},{"x":364,"y":-0.46},{"x":379,"y":-0.45},{"x":391,"y":-0.42},{"x":399,"y":-0.39},{"x":407,"y":-0.45},{"x":419,"y":-0.47},{"x":431,"y":-0.5},{"x":443,"y":-0.52},{"x":453,"y":-0.57},{"x":460,"y":0.0},{"x":464,"y":0.81},{"x":468,"y":0.2},{"x":472,"y":-0.5},{"x":476,"y":-0.37},{"x":484,"y":-0.47},{"x":500,"y":-0.48},{"x":516,"y":-0.46},{"x":532,"y":-0.44},{"x":549,"y":-0.42},{"x":561,"y":-0.37},{"x":569,"y":-0.34},{"x":577,"y":-0.38},{"x":589,"y":-0.43},{"x":605,"y":-0.46},{"x":621,"y":-0.47},{"x":634,"y":-0.45},{"x":642,"y":-0.42},{"x":650,"y":-0.48},{"x":662,"y":-0.5},{"x":674,"y":-0.54},{"x":686,"y":-0.57},{"x":694,"y":-0.5},{"x":698,"y":0.0},{"x":702,"y":0.82},{"x":706,"y":0.2},{"x":711,"y":-0.57},{"x":715,"y":-0.4},{"x":723,"y":-0.5},{"x":739,"y":-0.48},{"x":755,"y":-0.46},{"x":771,"y":-0.45},{"x":787,"y":-0.42},{"x":800,"y":-0.38},{"x":810,"y":-0.35},{"x":818,"y":-0.4},{"x":832,"y":-0.44},{"x":848,"y":-0.47},{"x":864,"y":-0.46},{"x":877,"y":-0.42},{"x":887,"y":-0.36},{"x":895,"y":-0.45},{"x":909,"y":-0.5},{"x":921,"y":-0.53},{"x":933,"y":-0.55},{"x":939,"y":-0.59},{"x":943,"y":0.0},{"x":947,"y":0.72},{"x":951,"y":0.2},{"x":955,"y":-0.5},{"x":960,"y":-0.38},{"x":966,"y":-0.48},{"x":976,"y":-0.47},{"x":986,"y":-0.45},{"x":999,"y":-0.43}],
"p5R": [{"x":0,"y":-0.24},{"x":4,"y":-0.24},{"x":8,"y":-0.13},{"x":12,"y":-0.2},{"x":16,"y":-0.18},{"x":20,"y":-0.22},{"x":24,"y":-0.16},{"x":28,"y":-0.24},{"x":32,"y":-0.18},{"x":37,"y":-0.21},{"x":41,"y":-0.15},{"x":45,"y":-0.25},{"x":49,"y":-0.17},{"x":53,"y":-0.2},{"x":57,"y":-0.26},{"x":61,"y":-0.18},{"x":65,"y":-0.22},{"x":69,"y":-0.16},{"x":73,"y":-0.24},{"x":77,"y":-0.18},{"x":81,"y":-0.2},{"x":85,"y":-0.15},{"x":89,"y":-0.25},{"x":93,"y":-0.19},{"x":97,"y":-0.22},{"x":101,"y":-0.17},{"x":105,"y":-0.26},{"x":110,"y":-0.2},{"x":114,"y":-0.18},{"x":118,"y":-0.27},{"x":122,"y":-0.2},{"x":126,"y":-0.15},{"x":130,"y":-0.28},{"x":134,"y":-0.19},{"x":138,"y":-0.25},{"x":142,"y":-0.16},{"x":146,"y":-0.22},{"x":150,"y":-0.3},{"x":154,"y":-0.18},{"x":158,"y":-0.24},{"x":162,"y":-0.13},{"x":166,"y":-0.26},{"x":170,"y":-0.2},{"x":174,"y":-0.29},{"x":178,"y":-0.17},{"x":185,"y":-0.24},{"x":191,"y":-0.2},{"x":197,"y":-0.27},{"x":203,"y":-0.18},{"x":209,"y":-0.22},{"x":215,"y":-0.26},{"x":221,"y":-0.19},{"x":227,"y":-0.23},{"x":233,"y":-0.16},{"x":239,"y":-0.25},{"x":245,"y":-0.2},{"x":252,"y":-0.28},{"x":258,"y":-0.19},{"x":264,"y":-0.23},{"x":270,"y":-0.17},{"x":276,"y":-0.25},{"x":282,"y":-0.2},{"x":288,"y":-0.22},{"x":294,"y":-0.18},{"x":300,"y":-0.26},{"x":306,"y":-0.2},{"x":312,"y":-0.23},{"x":318,"y":-0.18},{"x":325,"y":-0.21},{"x":331,"y":-0.26},{"x":337,"y":-0.19},{"x":343,"y":-0.24},{"x":349,"y":-0.17},{"x":355,"y":-0.22},{"x":361,"y":-0.19},{"x":367,"y":-0.26},{"x":371,"y":-0.16},{"x":375,"y":-0.33},{"x":379,"y":-0.2},{"x":383,"y":-0.18},{"x":387,"y":-0.22},{"x":391,"y":-0.15},{"x":396,"y":-0.2},{"x":400,"y":-0.1},{"x":404,"y":-0.2},{"x":408,"y":-0.05},{"x":412,"y":-0.15},{"x":416,"y":-0.1},{"x":420,"y":-0.2},{"x":424,"y":-0.13},{"x":428,"y":-0.18},{"x":432,"y":-0.22},{"x":436,"y":-0.17},{"x":440,"y":-0.2},{"x":444,"y":-0.15},{"x":448,"y":-0.28},{"x":452,"y":-0.22},{"x":456,"y":-0.2},{"x":460,"y":-0.25},{"x":465,"y":-0.18},{"x":469,"y":-0.22},{"x":473,"y":-0.2},{"x":477,"y":-0.17},{"x":481,"y":-0.2},{"x":485,"y":-0.1},{"x":489,"y":0.34},{"x":493,"y":-0.2},{"x":497,"y":-0.45},{"x":501,"y":-0.52},{"x":505,"y":-0.4},{"x":509,"y":-0.47},{"x":513,"y":-0.32},{"x":517,"y":-0.38},{"x":521,"y":-0.3},{"x":525,"y":-0.32},{"x":529,"y":-0.25},{"x":533,"y":-0.27},{"x":538,"y":-0.2},{"x":542,"y":-0.22},{"x":546,"y":-0.15},{"x":550,"y":-0.18},{"x":554,"y":-0.12},{"x":558,"y":-0.14},{"x":562,"y":-0.1},{"x":566,"y":-0.12},{"x":570,"y":-0.06},{"x":574,"y":-0.08},{"x":578,"y":-0.03},{"x":582,"y":-0.05},{"x":586,"y":0.0},{"x":590,"y":0.04},{"x":594,"y":0.0},{"x":598,"y":0.06},{"x":602,"y":0.0},{"x":606,"y":0.05},{"x":611,"y":-0.03},{"x":615,"y":-0.05},{"x":619,"y":-0.1},{"x":623,"y":-0.08},{"x":627,"y":-0.13},{"x":631,"y":-0.15},{"x":635,"y":-0.12},{"x":639,"y":-0.2},{"x":643,"y":-0.18},{"x":647,"y":-0.22},{"x":651,"y":-0.18},{"x":655,"y":-0.2},{"x":659,"y":-0.15},{"x":663,"y":-0.18},{"x":667,"y":-0.12},{"x":671,"y":-0.17},{"x":675,"y":-0.13},{"x":680,"y":-0.18},{"x":684,"y":-0.1},{"x":688,"y":-0.15},{"x":692,"y":-0.12},{"x":696,"y":-0.18},{"x":700,"y":-0.13},{"x":704,"y":-0.16},{"x":708,"y":-0.12},{"x":712,"y":-0.17},{"x":716,"y":-0.1},{"x":720,"y":-0.15},{"x":724,"y":-0.2},{"x":728,"y":-0.12},{"x":732,"y":0.2},{"x":736,"y":0.49},{"x":740,"y":-0.1},{"x":744,"y":-0.43},{"x":748,"y":-0.3},{"x":753,"y":-0.38},{"x":757,"y":-0.3},{"x":761,"y":-0.42},{"x":765,"y":-0.3},{"x":769,"y":-0.25},{"x":773,"y":-0.2},{"x":777,"y":-0.12},{"x":781,"y":-0.16},{"x":785,"y":-0.12},{"x":789,"y":-0.15},{"x":793,"y":-0.1},{"x":797,"y":-0.08},{"x":801,"y":-0.1},{"x":805,"y":-0.05},{"x":809,"y":-0.02},{"x":813,"y":0.02},{"x":817,"y":0.05},{"x":822,"y":0.1},{"x":826,"y":0.12},{"x":830,"y":0.13},{"x":834,"y":0.1},{"x":838,"y":0.12},{"x":842,"y":0.06},{"x":846,"y":0.03},{"x":850,"y":-0.03},{"x":854,"y":-0.08},{"x":858,"y":-0.12},{"x":862,"y":-0.15},{"x":866,"y":-0.13},{"x":870,"y":-0.2},{"x":874,"y":-0.15},{"x":878,"y":-0.2},{"x":882,"y":-0.14},{"x":886,"y":-0.22},{"x":890,"y":-0.15},{"x":895,"y":-0.25},{"x":899,"y":-0.17},{"x":903,"y":-0.2},{"x":907,"y":-0.14},{"x":911,"y":-0.23},{"x":915,"y":-0.16},{"x":919,"y":-0.2},{"x":923,"y":-0.12},{"x":927,"y":-0.2},{"x":931,"y":-0.15},{"x":935,"y":-0.22},{"x":939,"y":-0.17},{"x":943,"y":-0.2},{"x":947,"y":-0.13},{"x":951,"y":-0.16},{"x":955,"y":-0.24},{"x":959,"y":-0.15},{"x":963,"y":-0.12},{"x":968,"y":-0.18},{"x":972,"y":-0.13},{"x":976,"y":-0.2},{"x":980,"y":-0.14},{"x":984,"y":-0.16},{"x":988,"y":-0.12},{"x":992,"y":-0.15},{"x":996,"y":0.1},{"x":999,"y":0.39}]
},
"columns": 3,
"bounds": "flush",
"align": "each",
"spacing": {"column": 51, "row": 34},
"concat": [
 {"width": 17, "height": 6, "view": {"stroke": null}, "data": {"values": [{"t": "Signal\ndescription"}]}, "mark": {"type": "text", "lineBreak": "\n", "lineHeight": 13.5, "baseline": "middle", "dx": 17.5, "dy": 10}, "encoding": {"text": {"field": "t"}}},
 {"width": 176, "height": 6, "view": {"stroke": null}, "data": {"values": [{"t": "Normal ECG signal"}]}, "mark": {"type": "text", "baseline": "middle", "dx": 3, "dy": 3.5}, "encoding": {"text": {"field": "t"}}},
 {"width": 176, "height": 6, "view": {"stroke": null}, "data": {"values": [{"t": "AF affected abnormal signal"}]}, "mark": {"type": "text", "baseline": "middle", "dx": -11, "dy": 6}, "encoding": {"text": {"field": "t"}}},

 {"width": 17, "height": 134, "view": {"stroke": null}, "data": {"values": [{"t": "1"}]}, "mark": {"type": "text", "baseline": "middle", "dx": 13.5, "dy": -4, "fontSize": 12}, "encoding": {"text": {"field": "t"}}},
 {"width": 176, "height": 134, "title": "Signal", "data": {"name": "p1L"}, "mark": "line", "encoding": {
   "x": {"field": "x", "type": "quantitative", "scale": {"domain": [-40, 1040], "nice": false, "zero": false}, "axis": {"title": null, "values": [0,200,400,600,800,1000]}},
   "y": {"field": "y", "type": "quantitative", "scale": {"domain": [-1.13, 1.09], "nice": false, "zero": false}, "axis": {"title": null, "values": [-1,-0.75,-0.5,-0.25,0,0.25,0.5,0.75,1], "format": ".2f"}}}},
 {"width": 176, "height": 134, "title": "Signal", "data": {"name": "p1R"}, "mark": "line", "encoding": {
   "x": {"field": "x", "type": "quantitative", "scale": {"domain": [-40, 1040], "nice": false, "zero": false}, "axis": {"title": null, "values": [0,200,400,600,800,1000]}},
   "y": {"field": "y", "type": "quantitative", "scale": {"domain": [-1.03, 0.06], "nice": false, "zero": false}, "axis": {"title": null, "values": [-1,-0.8,-0.6,-0.4,-0.2,0], "format": ".1f"}}}},

 {"width": 17, "height": 134, "view": {"stroke": null}, "data": {"values": [{"t": "2"}]}, "mark": {"type": "text", "baseline": "middle", "dx": 13.5, "dy": -5, "fontSize": 12}, "encoding": {"text": {"field": "t"}}},
 {"width": 176, "height": 134, "title": "Signal", "data": {"name": "p2L"}, "mark": "line", "encoding": {
   "x": {"field": "x", "type": "quantitative", "scale": {"domain": [-40, 1040], "nice": false, "zero": false}, "axis": {"title": null, "values": [0,200,400,600,800,1000]}},
   "y": {"field": "y", "type": "quantitative", "scale": {"domain": [-0.91, 2.17], "nice": false, "zero": false}, "axis": {"title": null, "values": [-0.5,0,0.5,1,1.5,2], "format": ".1f"}}}},
 {"width": 176, "height": 134, "title": "Signal", "data": {"name": "p2R"}, "mark": "line", "encoding": {
   "x": {"field": "x", "type": "quantitative", "scale": {"domain": [-40, 1040], "nice": false, "zero": false}, "axis": {"title": null, "values": [0,200,400,600,800,1000]}},
   "y": {"field": "y", "type": "quantitative", "scale": {"domain": [-0.81, 0.11], "nice": false, "zero": false}, "axis": {"title": null, "values": [-0.8,-0.6,-0.4,-0.2,0], "format": ".1f"}}}},

 {"width": 17, "height": 134, "view": {"stroke": null}, "data": {"values": [{"t": "3"}]}, "mark": {"type": "text", "baseline": "middle", "dx": 13.5, "dy": -3, "fontSize": 12}, "encoding": {"text": {"field": "t"}}},
 {"width": 176, "height": 134, "title": "Signal", "data": {"name": "p3L"}, "mark": "line", "encoding": {
   "x": {"field": "x", "type": "quantitative", "scale": {"domain": [-40, 1040], "nice": false, "zero": false}, "axis": {"title": null, "values": [0,200,400,600,800,1000]}},
   "y": {"field": "y", "type": "quantitative", "scale": {"domain": [-2.93, 2.13], "nice": false, "zero": false}, "axis": {"title": null, "values": [-2,-1,0,1,2], "format": "d"}}}},
 {"width": 176, "height": 134, "title": "Signal", "data": {"name": "p3R"}, "mark": "line", "encoding": {
   "x": {"field": "x", "type": "quantitative", "scale": {"domain": [-40, 1040], "nice": false, "zero": false}, "axis": {"title": null, "values": [0,200,400,600,800,1000]}},
   "y": {"field": "y", "type": "quantitative", "scale": {"domain": [-2.30, 0.57], "nice": false, "zero": false}, "axis": {"title": null, "values": [-2,-1.5,-1,-0.5,0,0.5], "format": ".1f"}}}},

 {"width": 17, "height": 134, "view": {"stroke": null}, "data": {"values": [{"t": "4"}]}, "mark": {"type": "text", "baseline": "middle", "dx": 13.5, "dy": -6, "fontSize": 12}, "encoding": {"text": {"field": "t"}}},
 {"width": 176, "height": 134, "title": "Signal", "data": {"name": "p4L"}, "mark": "line", "encoding": {
   "x": {"field": "x", "type": "quantitative", "scale": {"domain": [-40, 1040], "nice": false, "zero": false}, "axis": {"title": null, "values": [0,200,400,600,800,1000]}},
   "y": {"field": "y", "type": "quantitative", "scale": {"domain": [-1.34, 1.54], "nice": false, "zero": false}, "axis": {"title": null, "values": [-1,-0.5,0,0.5,1,1.5], "format": ".1f"}}}},
 {"width": 176, "height": 134, "title": "Signal", "data": {"name": "p4R"}, "mark": "line", "encoding": {
   "x": {"field": "x", "type": "quantitative", "scale": {"domain": [-40, 1040], "nice": false, "zero": false}, "axis": {"title": null, "values": [0,200,400,600,800,1000]}},
   "y": {"field": "y", "type": "quantitative", "scale": {"domain": [-0.91, 1.95], "nice": false, "zero": false}, "axis": {"title": null, "values": [-0.5,0,0.5,1,1.5], "format": ".1f"}}}},

 {"width": 17, "height": 134, "view": {"stroke": null}, "data": {"values": [{"t": "5"}]}, "mark": {"type": "text", "baseline": "middle", "dx": 13.5, "dy": -11, "fontSize": 12}, "encoding": {"text": {"field": "t"}}},
 {"width": 176, "height": 134, "title": "Signal", "data": {"name": "p5L"}, "mark": "line", "encoding": {
   "x": {"field": "x", "type": "quantitative", "scale": {"domain": [-40, 1040], "nice": false, "zero": false}, "axis": {"title": null, "values": [0,200,400,600,800,1000]}},
   "y": {"field": "y", "type": "quantitative", "scale": {"domain": [-0.66, 0.90], "nice": false, "zero": false}, "axis": {"title": null, "values": [-0.6,-0.4,-0.2,0,0.2,0.4,0.6,0.8], "format": ".1f"}}}},
 {"width": 176, "height": 134, "title": "Signal", "data": {"name": "p5R"}, "mark": "line", "encoding": {
   "x": {"field": "x", "type": "quantitative", "scale": {"domain": [-40, 1040], "nice": false, "zero": false}, "axis": {"title": null, "values": [0,200,400,600,800,1000]}},
   "y": {"field": "y", "type": "quantitative", "scale": {"domain": [-0.57, 0.54], "nice": false, "zero": false}, "axis": {"title": null, "values": [-0.4,-0.2,0,0.2,0.4], "format": ".1f"}}}}
]
}
